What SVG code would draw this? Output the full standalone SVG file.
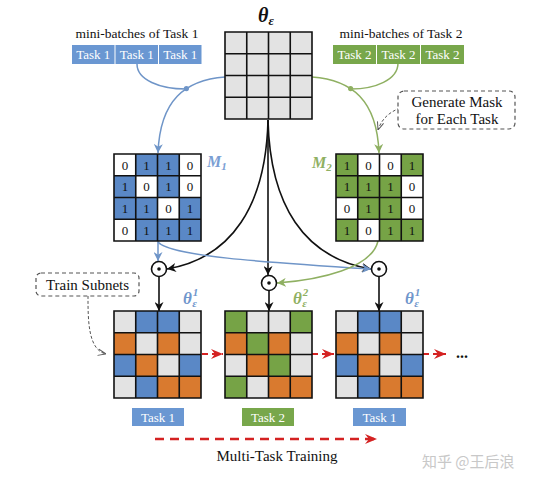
<svg xmlns="http://www.w3.org/2000/svg" width="533" height="484" viewBox="0 0 533 484" font-family="'Liberation Serif', 'Times New Roman', serif">
<defs>
<style>
text{font-family:'Liberation Serif','Times New Roman',serif;}
.lab{fill:#111;}
.btxt{font-size:13px;fill:#fff;text-anchor:middle;}
.num{font-size:13px;fill:#111;text-anchor:middle;}
.gl{fill:none;stroke:#111;stroke-width:1.6;}
.g{fill:#e3e3e3;}
.b{fill:#5a88c6;}
.o{fill:#d97a2f;}
.gr{fill:#76a346;}
.w{fill:#fff;}
.tb{fill:#6a97d2;}
.tg{fill:#78a74b;}
.cb{fill:none;stroke:#6f95c8;stroke-width:1.5;}
.cg{fill:none;stroke:#8fb062;stroke-width:1.5;}
.ck{fill:none;stroke:#111;stroke-width:1.6;}
.rd{fill:none;stroke:#d42222;stroke-width:2;stroke-dasharray:6 4;}
.dash{fill:#fff;stroke:#555;stroke-width:1.2;stroke-dasharray:4 3;}
.dl{fill:none;stroke:#555;stroke-width:1;stroke-dasharray:3 2;}
.od{fill:#fff;stroke:#111;stroke-width:1.6;}
.math{font-style:italic;font-weight:bold;}
</style>
<marker id="ab" viewBox="0 0 10 10" refX="10" refY="5" markerWidth="9" markerHeight="9" markerUnits="userSpaceOnUse" orient="auto"><path d="M0,0 L10,5 L0,10 L3,5z" fill="#6f95c8"/></marker>
<marker id="ak" viewBox="0 0 10 10" refX="10" refY="5" markerWidth="9" markerHeight="9" markerUnits="userSpaceOnUse" orient="auto"><path d="M0,0 L10,5 L0,10 L3,5z" fill="#111"/></marker>
<marker id="ag" viewBox="0 0 10 10" refX="10" refY="5" markerWidth="9" markerHeight="9" markerUnits="userSpaceOnUse" orient="auto"><path d="M0,0 L10,5 L0,10 L3,5z" fill="#8fb062"/></marker>
<marker id="ar" viewBox="0 0 12 10" refX="12" refY="5" markerWidth="12" markerHeight="10" markerUnits="userSpaceOnUse" orient="auto"><path d="M0,0 L12,5 L0,10 L4,5z" fill="#d42222"/></marker>
<marker id="ao" viewBox="0 0 10 10" refX="10" refY="5" markerWidth="8" markerHeight="8" markerUnits="userSpaceOnUse" orient="auto"><path d="M0,1 L10,5 L0,9" fill="none" stroke="#555" stroke-width="1.2"/></marker>
<path id="grid" d="M0 0H87V87H0Z M21.75 0V87 M43.5 0V87 M65.25 0V87 M0 21.75H87 M0 43.5H87 M0 65.25H87"/>
</defs>

<g id="connectors">
<path class="cb" d="M225 77 C185 80 160 100 158 153" marker-end="url(#ab)"/>
<path class="cb" d="M137 64 C137 80 160 89 186 89"/>
<circle cx="186.4" cy="88.6" r="2.6" fill="#6f95c8"/>
<path class="cg" d="M312 77 C352 80 377 100 379 153" marker-end="url(#ag)"/>
<path class="cg" d="M398 63 C398 80 375 89 351 89"/>
<circle cx="350.6" cy="88.6" r="2.6" fill="#8fb062"/>
<path class="ck" d="M268 120 V275" marker-end="url(#ak)"/>
<path class="ck" d="M268 120 C266 205 232 258 167 269" marker-end="url(#ak)"/>
<path class="ck" d="M268 120 C270 205 304 258 371 269" marker-end="url(#ak)"/>
<path class="cb" d="M158 241 V261" marker-end="url(#ab)"/>
<path class="cb" d="M158 242 C170 256 260 262 371 269" marker-end="url(#ab)"/>
<path class="cg" d="M378 241 C372 268 320 280 277 283" marker-end="url(#ag)"/>
<path class="ck" d="M159 277 V311" marker-end="url(#ak)"/>
<path class="ck" d="M269 291 V311" marker-end="url(#ak)"/>
<path class="ck" d="M379 277 V311" marker-end="url(#ak)"/>
<path class="rd" d="M202 354 H223" marker-end="url(#ar)"/>
<path class="rd" d="M312 354 H334" marker-end="url(#ar)"/>
<path class="rd" d="M423 354 H446" marker-end="url(#ar)"/>
<path class="rd" d="M155 439 H377" style="stroke-width:2.4;stroke-dasharray:9 6" marker-end="url(#ar)"/>
<path class="dl" d="M400 108 C390 112 382 118 378 130" marker-end="url(#ao)"/>
<path class="dl" d="M88 296 C88 320 88 350 106 354" marker-end="url(#ao)"/>
</g>

<g id="batches1">
<text class="lab" x="137" y="38" text-anchor="middle" style="font-size:13.5px">mini-batches of Task 1</text>
<rect class="tb" x="72" y="45" width="42.5" height="19"/>
<rect class="tb" x="115.5" y="45" width="42.5" height="19"/>
<rect class="tb" x="159" y="45" width="42.5" height="19"/>
<text class="btxt" x="93.3" y="59">Task 1</text>
<text class="btxt" x="136.8" y="59">Task 1</text>
<text class="btxt" x="180.3" y="59">Task 1</text>
</g>

<g id="batches2">
<text class="lab" x="401" y="38" text-anchor="middle" style="font-size:13.5px">mini-batches of Task 2</text>
<rect class="tg" x="333" y="45" width="43" height="19"/>
<rect class="tg" x="377" y="45" width="43" height="19"/>
<rect class="tg" x="421" y="45" width="43" height="19"/>
<text class="btxt" x="354.5" y="59">Task 2</text>
<text class="btxt" x="398.5" y="59">Task 2</text>
<text class="btxt" x="442.5" y="59">Task 2</text>
</g>

<g id="theta">
<text class="math" x="258" y="22" style="font-size:20px" fill="#111">θ<tspan style="font-size:13px" dy="3">ε</tspan></text>
<g transform="translate(225,32)">
<rect class="g" width="87" height="87"/>
<use href="#grid" class="gl"/>
</g>
</g>

<g id="genmask">
<rect class="dash" x="398" y="91" width="117" height="38" rx="6"/>
<text class="lab" x="457" y="107" text-anchor="middle" style="font-size:15px">Generate Mask</text>
<text class="lab" x="457" y="124" text-anchor="middle" style="font-size:15px">for Each Task</text>
</g>

<g id="mask1">
<text class="math" x="207" y="167" style="font-size:16px" fill="#7a9ed3">M<tspan style="font-size:11px" dy="3">1</tspan></text>
<g transform="translate(114,154)">
<rect class="w" width="87" height="87"/>
<rect class="b" x="21.75" y="0" width="43.5" height="21.75"/>
<rect class="b" x="0" y="21.75" width="21.75" height="21.75"/>
<rect class="b" x="43.5" y="21.75" width="21.75" height="21.75"/>
<rect class="b" x="0" y="43.5" width="43.5" height="21.75"/>
<rect class="b" x="65.25" y="43.5" width="21.75" height="21.75"/>
<rect class="b" x="21.75" y="65.25" width="65.25" height="21.75"/>
<use href="#grid" class="gl"/>
<g class="num">
<text x="10.9" y="15.5">0</text><text x="32.6" y="15.5">1</text><text x="54.4" y="15.5">1</text><text x="76.1" y="15.5">0</text>
<text x="10.9" y="37.3">1</text><text x="32.6" y="37.3">0</text><text x="54.4" y="37.3">1</text><text x="76.1" y="37.3">0</text>
<text x="10.9" y="59">1</text><text x="32.6" y="59">1</text><text x="54.4" y="59">0</text><text x="76.1" y="59">1</text>
<text x="10.9" y="80.8">0</text><text x="32.6" y="80.8">1</text><text x="54.4" y="80.8">1</text><text x="76.1" y="80.8">1</text>
</g>
</g>
</g>

<g id="mask2">
<text class="math" x="312" y="168" style="font-size:16px" fill="#8fb062">M<tspan style="font-size:11px" dy="3">2</tspan></text>
<g transform="translate(336,154)">
<rect class="w" width="87" height="87"/>
<rect class="gr" x="0" y="0" width="21.75" height="21.75"/>
<rect class="gr" x="65.25" y="0" width="21.75" height="21.75"/>
<rect class="gr" x="0" y="21.75" width="65.25" height="21.75"/>
<rect class="gr" x="21.75" y="43.5" width="43.5" height="21.75"/>
<rect class="gr" x="0" y="65.25" width="21.75" height="21.75"/>
<rect class="gr" x="43.5" y="65.25" width="43.5" height="21.75"/>
<use href="#grid" class="gl"/>
<g class="num">
<text x="10.9" y="15.5">1</text><text x="32.6" y="15.5">0</text><text x="54.4" y="15.5">0</text><text x="76.1" y="15.5">1</text>
<text x="10.9" y="37.3">1</text><text x="32.6" y="37.3">1</text><text x="54.4" y="37.3">1</text><text x="76.1" y="37.3">0</text>
<text x="10.9" y="59">0</text><text x="32.6" y="59">1</text><text x="54.4" y="59">1</text><text x="76.1" y="59">0</text>
<text x="10.9" y="80.8">1</text><text x="32.6" y="80.8">0</text><text x="54.4" y="80.8">1</text><text x="76.1" y="80.8">1</text>
</g>
</g>
</g>

<g id="odot1"><circle class="od" cx="159" cy="269" r="7.5"/><circle cx="159" cy="269" r="1.8" fill="#111"/></g>
<g id="odot2"><circle class="od" cx="269" cy="283" r="7.5"/><circle cx="269" cy="283" r="1.8" fill="#111"/></g>
<g id="odot3"><circle class="od" cx="379" cy="269" r="7.5"/><circle cx="379" cy="269" r="1.8" fill="#111"/></g>

<g id="trainsub">
<rect class="dash" x="36" y="273" width="103" height="23" rx="5"/>
<text class="lab" x="87.5" y="289.5" text-anchor="middle" style="font-size:15px">Train Subnets</text>
</g>

<g id="subnet1">
<text class="math" x="183" y="304" style="font-size:17px" fill="#7096cc">θ<tspan style="font-size:11px" dx="1" dy="-8">1</tspan><tspan style="font-size:11px" dx="-6" dy="11">ε</tspan></text>
<g transform="translate(114,311)">
<rect class="g" width="87" height="87"/>
<rect class="b" x="21.75" y="0" width="43.5" height="21.75"/>
<rect class="o" x="0" y="21.75" width="21.75" height="21.75"/>
<rect class="o" x="43.5" y="21.75" width="21.75" height="21.75"/>
<rect class="b" x="0" y="43.5" width="21.75" height="21.75"/>
<rect class="o" x="21.75" y="43.5" width="21.75" height="21.75"/>
<rect class="b" x="65.25" y="43.5" width="21.75" height="21.75"/>
<rect class="b" x="21.75" y="65.25" width="21.75" height="21.75"/>
<rect class="o" x="43.5" y="65.25" width="43.5" height="21.75"/>
<use href="#grid" class="gl"/>
</g>
<rect class="tb" x="132" y="408" width="52" height="18"/>
<text class="btxt" x="158" y="421.5">Task 1</text>
</g>

<g id="subnet2">
<text class="math" x="293" y="304" style="font-size:17px" fill="#8fb062">θ<tspan style="font-size:11px" dx="1" dy="-8">2</tspan><tspan style="font-size:11px" dx="-6" dy="11">ε</tspan></text>
<g transform="translate(225,311)">
<rect class="g" width="87" height="87"/>
<rect class="gr" x="0" y="0" width="21.75" height="21.75"/>
<rect class="gr" x="65.25" y="0" width="21.75" height="21.75"/>
<rect class="o" x="0" y="21.75" width="21.75" height="21.75"/>
<rect class="gr" x="21.75" y="21.75" width="21.75" height="21.75"/>
<rect class="o" x="43.5" y="21.75" width="21.75" height="21.75"/>
<rect class="o" x="21.75" y="43.5" width="21.75" height="21.75"/>
<rect class="gr" x="43.5" y="43.5" width="21.75" height="21.75"/>
<rect class="gr" x="0" y="65.25" width="21.75" height="21.75"/>
<rect class="o" x="43.5" y="65.25" width="43.5" height="21.75"/>
<use href="#grid" class="gl"/>
</g>
<rect class="tg" x="242" y="408" width="52" height="18"/>
<text class="btxt" x="268" y="421.5">Task 2</text>
</g>

<g id="subnet3">
<text class="math" x="405" y="304" style="font-size:17px" fill="#7096cc">θ<tspan style="font-size:11px" dx="1" dy="-8">1</tspan><tspan style="font-size:11px" dx="-6" dy="11">ε</tspan></text>
<g transform="translate(336,311)">
<rect class="g" width="87" height="87"/>
<rect class="b" x="21.75" y="0" width="43.5" height="21.75"/>
<rect class="o" x="0" y="21.75" width="21.75" height="21.75"/>
<rect class="o" x="43.5" y="21.75" width="21.75" height="21.75"/>
<rect class="b" x="0" y="43.5" width="21.75" height="21.75"/>
<rect class="o" x="21.75" y="43.5" width="21.75" height="21.75"/>
<rect class="b" x="65.25" y="43.5" width="21.75" height="21.75"/>
<rect class="b" x="21.75" y="65.25" width="21.75" height="21.75"/>
<rect class="o" x="43.5" y="65.25" width="43.5" height="21.75"/>
<use href="#grid" class="gl"/>
</g>
<rect class="tb" x="353" y="408" width="53" height="18"/>
<text class="btxt" x="379.5" y="421.5">Task 1</text>
</g>

<text x="456" y="358" style="font-size:16px;font-weight:bold" fill="#111">...</text>
<text class="lab" x="277" y="461" text-anchor="middle" style="font-size:15px">Multi-Task Training</text>
<text x="422" y="467" style="font-family:'Noto Sans CJK SC',sans-serif;font-size:15px" fill="#c8c8c8">知乎 @王后浪</text>
</svg>
